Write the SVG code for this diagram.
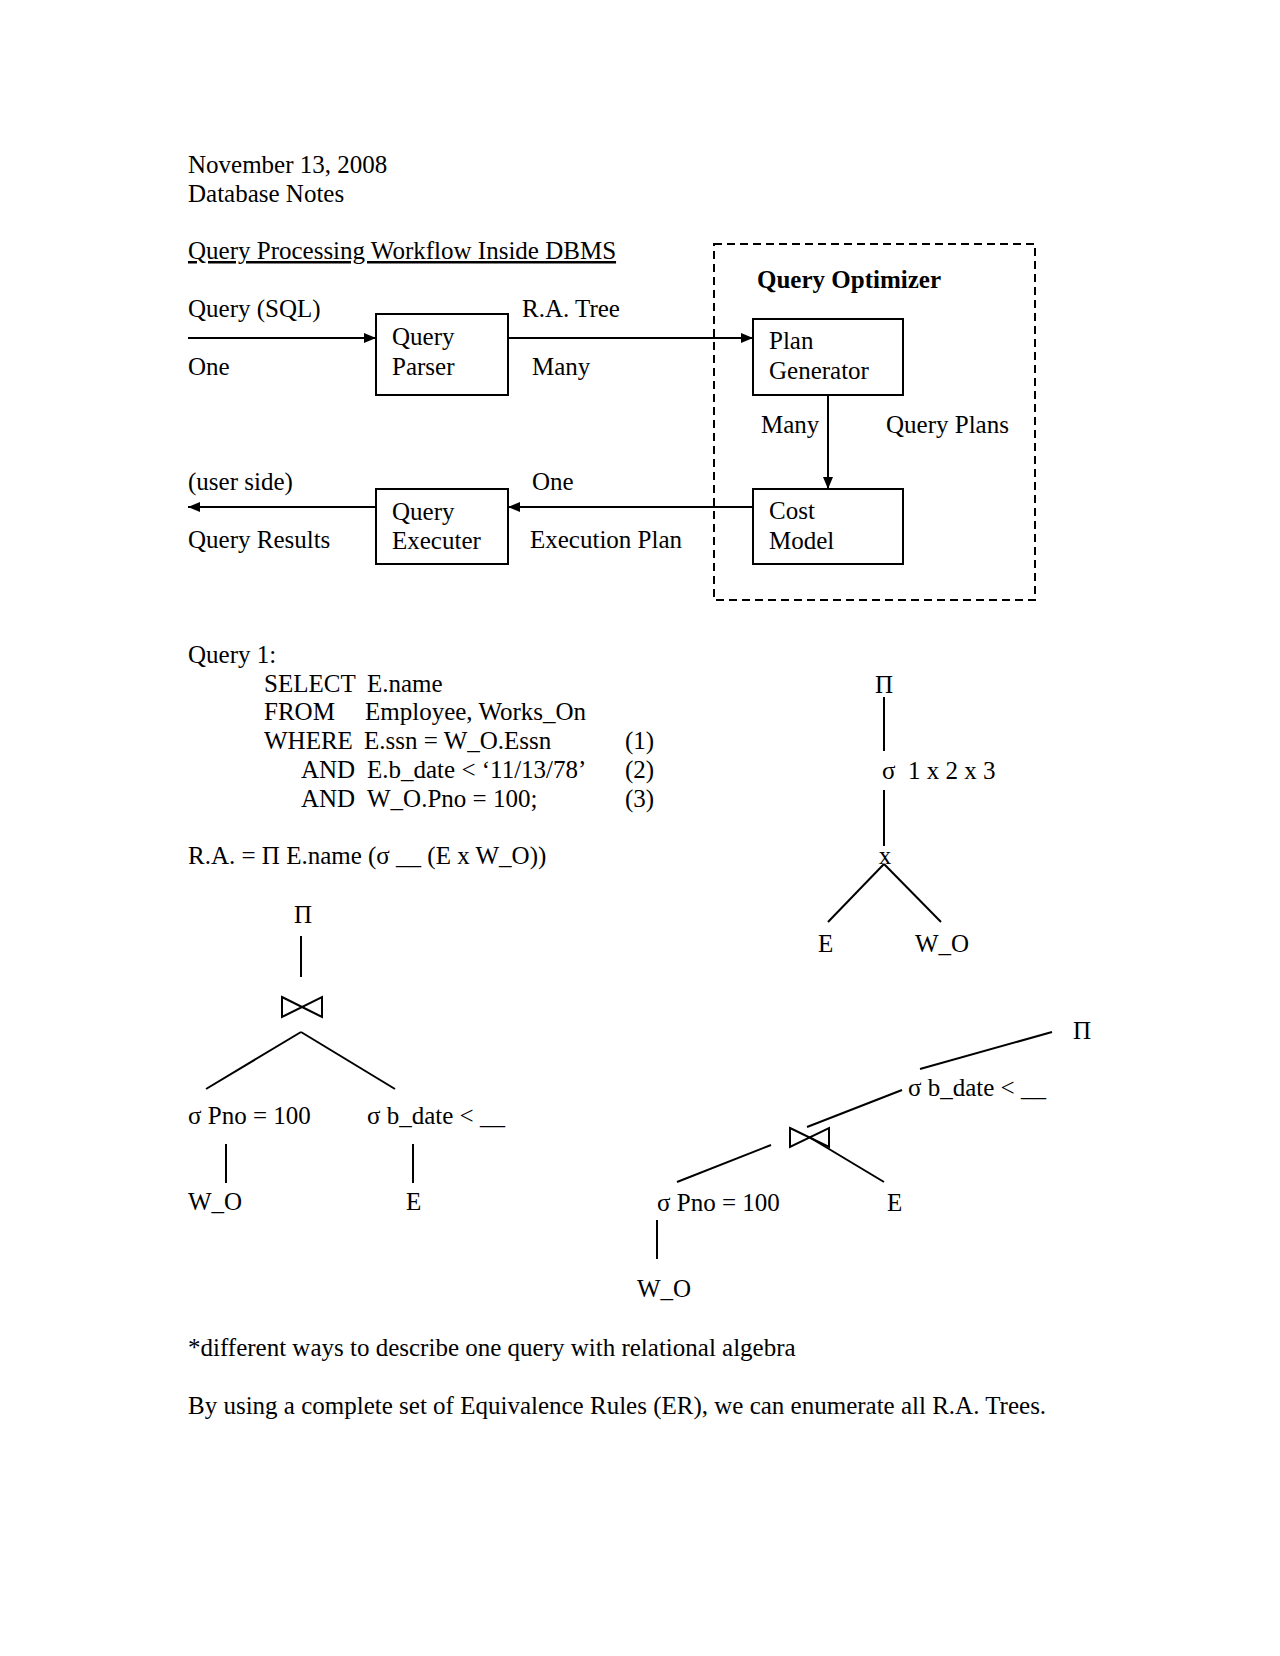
<svg xmlns="http://www.w3.org/2000/svg" width="1280" height="1656" viewBox="0 0 1280 1656">
<style>
text{font-family:"Liberation Serif","Times New Roman",serif;font-size:25px;fill:#000}
.b{font-weight:bold}
.u{text-decoration:underline}
.m{text-anchor:middle}
.box{fill:#fff;stroke:#000;stroke-width:2}
.ln{stroke:#000;stroke-width:2;fill:none}
.bow{stroke:#000;stroke-width:2;fill:none;stroke-linejoin:miter}
.dash{fill:none;stroke:#000;stroke-width:2;stroke-dasharray:8 5}
</style>
<defs>
<marker id="ah" viewBox="0 0 12 10" refX="12" refY="5" markerWidth="12" markerHeight="10" markerUnits="userSpaceOnUse" orient="auto">
<path d="M0,0 L12,5 L0,10 z" fill="#000"/>
</marker>
</defs>
<rect width="1280" height="1656" fill="#fff"/>

<g id="header">
<text x="188" y="173">November 13, 2008</text>
<text x="188" y="202">Database Notes</text>
<text x="188" y="259" class="u">Query Processing Workflow Inside DBMS</text>
</g>

<g id="optimizer">
<rect x="714" y="244" width="321" height="356" class="dash"/>
<text x="757" y="288" class="b">Query Optimizer</text>
</g>

<g id="connectors">
<line x1="188" y1="338" x2="376" y2="338" class="ln" marker-end="url(#ah)"/>
<line x1="508" y1="338" x2="753" y2="338" class="ln" marker-end="url(#ah)"/>
<line x1="828" y1="395" x2="828" y2="489" class="ln" marker-end="url(#ah)"/>
<line x1="753" y1="507" x2="508" y2="507" class="ln" marker-end="url(#ah)"/>
<line x1="376" y1="507" x2="188" y2="507" class="ln" marker-end="url(#ah)"/>
</g>

<g id="parser">
<rect x="376" y="314" width="132" height="81" class="box"/>
<text x="392" y="345">Query</text>
<text x="392" y="375">Parser</text>
</g>
<g id="plan-generator">
<rect x="753" y="319" width="150" height="76" class="box"/>
<text x="769" y="349">Plan</text>
<text x="769" y="379">Generator</text>
</g>
<g id="cost-model">
<rect x="753" y="489" width="150" height="75" class="box"/>
<text x="769" y="519">Cost</text>
<text x="769" y="549">Model</text>
</g>
<g id="executer">
<rect x="376" y="489" width="132" height="75" class="box"/>
<text x="392" y="520">Query</text>
<text x="392" y="549">Executer</text>
</g>

<g id="flow-labels">
<text x="188" y="317">Query (SQL)</text>
<text x="188" y="375">One</text>
<text x="522" y="317">R.A. Tree</text>
<text x="532" y="375">Many</text>
<text x="761" y="433">Many</text>
<text x="886" y="433">Query Plans</text>
<text x="188" y="490">(user side)</text>
<text x="188" y="548">Query Results</text>
<text x="532" y="490">One</text>
<text x="530" y="548">Execution Plan</text>
</g>

<g id="query1">
<text x="188" y="663">Query 1:</text>
<text x="264" y="692">SELECT</text><text x="367" y="692">E.name</text>
<text x="264" y="720">FROM</text><text x="365" y="720">Employee, Works_On</text>
<text x="264" y="749">WHERE</text><text x="364" y="749">E.ssn = W_O.Essn</text><text x="625" y="749">(1)</text>
<text x="301" y="778">AND</text><text x="367" y="778">E.b_date &lt; ‘11/13/78’</text><text x="625" y="778">(2)</text>
<text x="301" y="807">AND</text><text x="367" y="807">W_O.Pno = 100;</text><text x="625" y="807">(3)</text>
<text x="188" y="864">R.A. = Π E.name (σ __ (E x W_O))</text>
</g>

<g id="tree1">
<text x="884" y="693" class="m">Π</text>
<line x1="884" y1="697" x2="884" y2="751" class="ln"/>
<text x="882" y="779">σ</text><text x="908" y="779">1 x 2 x 3</text>
<line x1="884" y1="790" x2="884" y2="846" class="ln"/>
<text x="885" y="864" class="m">x</text>
<line x1="884" y1="864" x2="828" y2="922" class="ln"/>
<line x1="884" y1="864" x2="941" y2="922" class="ln"/>
<text x="818" y="952">E</text>
<text x="915" y="952">W_O</text>
</g>

<g id="tree2">
<text x="303" y="923" class="m">Π</text>
<line x1="301" y1="936" x2="301" y2="977" class="ln"/>
<path d="M282,997 L322,1017 L322,997 L282,1017 Z" class="bow"/>
<line x1="301" y1="1032" x2="206" y2="1089" class="ln"/>
<line x1="301" y1="1032" x2="395" y2="1089" class="ln"/>
<text x="188" y="1124">σ Pno = 100</text>
<text x="367" y="1124">σ b_date &lt; __</text>
<line x1="226" y1="1144" x2="226" y2="1183" class="ln"/>
<line x1="413" y1="1144" x2="413" y2="1183" class="ln"/>
<text x="188" y="1210">W_O</text>
<text x="406" y="1210">E</text>
</g>

<g id="tree3">
<text x="1082" y="1039" class="m">Π</text>
<line x1="1052" y1="1032" x2="920" y2="1069" class="ln"/>
<text x="908" y="1096">σ b_date &lt; __</text>
<line x1="902" y1="1090" x2="807" y2="1127" class="ln"/>
<path d="M790,1128 L829,1147 L829,1128 L790,1147 Z" class="bow"/>
<line x1="771" y1="1145" x2="677" y2="1182" class="ln"/>
<line x1="809" y1="1137" x2="884" y2="1182" class="ln"/>
<text x="657" y="1211">σ Pno = 100</text>
<text x="887" y="1211">E</text>
<line x1="657" y1="1220" x2="657" y2="1259" class="ln"/>
<text x="637" y="1297">W_O</text>
</g>

<g id="footer">
<text x="188" y="1356">*different ways to describe one query with relational algebra</text>
<text x="188" y="1414">By using a complete set of Equivalence Rules (ER), we can enumerate all R.A. Trees.</text>
</g>
</svg>
